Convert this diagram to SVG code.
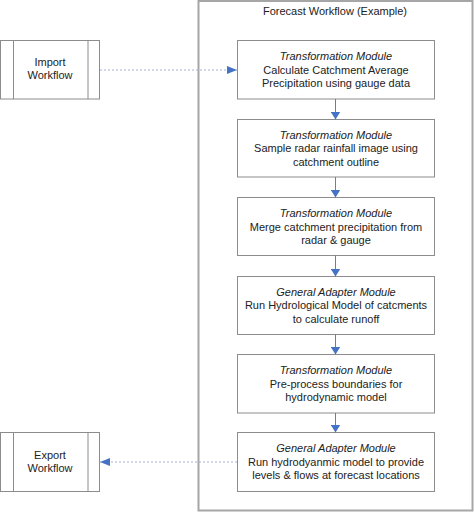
<svg xmlns="http://www.w3.org/2000/svg" width="474" height="513" viewBox="0 0 474 513">
<style>
.box{fill:#fff;stroke:#8c8c8c;stroke-width:1}
.t{font-family:"Liberation Sans",Arial,sans-serif;font-size:11px;fill:#222;text-anchor:middle}
.i{font-style:italic}
.flow{stroke:#5b7fbf;stroke-width:1;fill:none}
.dash{stroke:#9fb4dc;stroke-width:1;stroke-dasharray:2,2;fill:none}
</style>
<defs>
<marker id="ah" markerWidth="8" markerHeight="10" refX="8" refY="5" orient="auto" markerUnits="userSpaceOnUse">
<path d="M0,0 L8,5 L0,10 Z" fill="#4472c4"/>
</marker>
<marker id="ah2" markerWidth="10" markerHeight="8" refX="10" refY="4" orient="auto" markerUnits="userSpaceOnUse">
<path d="M0,0 L10,4 L0,8 Z" fill="#4472c4"/>
</marker>
</defs>
<g id="container">
<rect x="198.5" y="1" width="274" height="509.5" fill="#fff" stroke="#a6a6a6" stroke-width="2"/>
<text class="t" x="335" y="15">Forecast Workflow (Example)</text>
</g>
<g id="import">
<rect class="box" x="0.5" y="40.5" width="99" height="58.5"/>
<line x1="13.5" y1="40.5" x2="13.5" y2="99" stroke="#8c8c8c"/>
<line x1="88" y1="40.5" x2="88" y2="99" stroke="#8c8c8c"/>
<text class="t" x="50" y="66">Import</text>
<text class="t" x="50" y="79">Workflow</text>
</g>
<g id="export">
<rect class="box" x="0.5" y="432.5" width="99" height="59"/>
<line x1="13.5" y1="432.5" x2="13.5" y2="491.5" stroke="#8c8c8c"/>
<line x1="88" y1="432.5" x2="88" y2="491.5" stroke="#8c8c8c"/>
<text class="t" x="50" y="459">Export</text>
<text class="t" x="50" y="472">Workflow</text>
</g>
<g id="m1">
<rect class="box" x="237.5" y="40.5" width="197" height="58.5"/>
<text class="t i" x="336" y="60">Transformation Module</text>
<text class="t" x="336" y="73.5">Calculate Catchment Average</text>
<text class="t" x="336" y="87">Precipitation using gauge data</text>
</g>
<g id="m2">
<rect class="box" x="237.5" y="119.5" width="197" height="57.5"/>
<text class="t i" x="336" y="138.5">Transformation Module</text>
<text class="t" x="336" y="152">Sample radar rainfall image using</text>
<text class="t" x="336" y="165.5">catchment outline</text>
</g>
<g id="m3">
<rect class="box" x="237.5" y="197.5" width="197" height="58"/>
<text class="t i" x="336" y="217">Transformation Module</text>
<text class="t" x="336" y="230.5">Merge catchment precipitation from</text>
<text class="t" x="336" y="244">radar &amp; gauge</text>
</g>
<g id="m4">
<rect class="box" x="237.5" y="276.5" width="197" height="58"/>
<text class="t i" x="336" y="295.5">General Adapter Module</text>
<text class="t" x="336" y="309">Run Hydrological Model of catcments</text>
<text class="t" x="336" y="322.5">to calculate runoff</text>
</g>
<g id="m5">
<rect class="box" x="237.5" y="354.5" width="197" height="58.5"/>
<text class="t i" x="336" y="374">Transformation Module</text>
<text class="t" x="336" y="387.5">Pre-process boundaries for</text>
<text class="t" x="336" y="401">hydrodynamic model</text>
</g>
<g id="m6">
<rect class="box" x="237.5" y="432.5" width="197" height="59"/>
<text class="t i" x="336" y="452">General Adapter Module</text>
<text class="t" x="336" y="465.5">Run hydrodyanmic model to provide</text>
<text class="t" x="336" y="479">levels &amp; flows at forecast locations</text>
</g>
<g id="connectors">
<line class="dash" x1="100" y1="70" x2="237" y2="70" marker-end="url(#ah2)"/>
<line class="dash" x1="237" y1="462" x2="100" y2="462" marker-end="url(#ah2)"/>
<line class="flow" x1="335.5" y1="99" x2="335.5" y2="119.5" marker-end="url(#ah)"/>
<line class="flow" x1="335.5" y1="177" x2="335.5" y2="197.5" marker-end="url(#ah)"/>
<line class="flow" x1="335.5" y1="255.5" x2="335.5" y2="276.5" marker-end="url(#ah)"/>
<line class="flow" x1="335.5" y1="334.5" x2="335.5" y2="354.5" marker-end="url(#ah)"/>
<line class="flow" x1="335.5" y1="413" x2="335.5" y2="432.5" marker-end="url(#ah)"/>
</g>
</svg>
